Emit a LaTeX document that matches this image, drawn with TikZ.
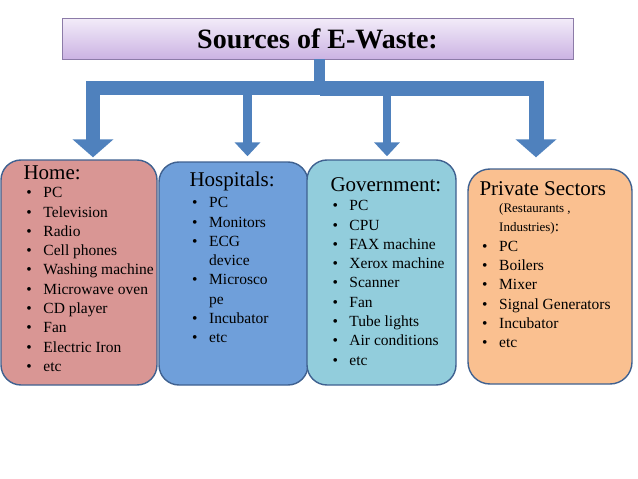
\documentclass[tikz,border=0pt]{standalone}
\usepackage{fontspec}
\setmainfont{Liberation Serif}
\usetikzlibrary{arrows.meta, positioning, calc}

\definecolor{titleTop}{HTML}{F3ECF9}
\definecolor{titleBot}{HTML}{CBB3E3}
\definecolor{titleLine}{HTML}{8C7BA8}
\definecolor{boxLine}{HTML}{3F6190}
\definecolor{arrowBlue}{HTML}{4F81BD}
\definecolor{homeFill}{HTML}{D99694}
\definecolor{hospFill}{HTML}{6F9FDA}
\definecolor{govFill}{HTML}{92CDDC}
\definecolor{privFill}{HTML}{FAC090}

\newcommand{\itm}[1]{\makebox[17pt][l]{\textbullet}#1}
\newcommand{\cnt}[1]{\hspace*{17pt}#1}

\tikzset{
  titleBox/.style={draw=titleLine, line width=0.8pt,
                   top color=titleTop, bottom color=titleBot,
                   minimum width=511pt, minimum height=41pt,
                   font=\fontsize{28}{32}\selectfont\bfseries},
  srcBox/.style={draw=boxLine, line width=1.4pt, rounded corners=20pt},
  headTxt/.style={inner sep=0pt, anchor=west,
                  font=\fontsize{21}{24}\selectfont},
  itemTxt/.style={inner sep=0pt, anchor=north west, align=left,
                  font=\fontsize{15.5}{19.3}\selectfont},
  trunk/.style={draw=arrowBlue, line width=11pt},
}

\begin{document}
\begin{tikzpicture}[x=1pt, y=-1pt]
    \useasboundingbox (0,0) rectangle (638,479);
    %% title
    \node[titleBox] (title) at (317.5,38.5) {Sources of E-Waste:};
    %% the four source boxes
    \node[srcBox, fill=homeFill, minimum width=156pt, minimum height=225pt] (home) at (79,272.5) {};
    \node[srcBox, fill=hospFill, minimum width=149pt, minimum height=223pt] (hosp) at (233.5,273.5) {};
    \node[srcBox, fill=govFill, minimum width=149pt, minimum height=225pt] (gov) at (381.5,272.5) {};
    \node[srcBox, fill=privFill, minimum width=164pt, minimum height=215pt, rounded corners=22pt] (priv) at (550,276.5) {};
    %% block arrows
    \coordinate (hub) at ([xshift=2pt,yshift=-29pt]title.south);
    \draw[trunk] ([xshift=2pt]title.south) -- (hub);
    \foreach \nm/\dx/\w/\hw/\hl/\sh in {home/14/14/40/18/2, priv/-14/15/40/18/11,
                                         hosp/14/9/25/14/5, gov/5.5/8/25/14/3}{
      \draw[draw=arrowBlue, line width=\w pt, shorten >=\sh pt,
            -{Triangle[width=\hw pt, length=\hl pt]}, arrowBlue]
        (hub) -| ([xshift=\dx pt]\nm.north);
    }
    %% Home
    \node[headTxt] (homeHd) at ([xshift=23pt,yshift=-13pt]home.north west) {Home:};
    \node[itemTxt] (homeList) at ([xshift=26pt,yshift=-28pt]home.north west)
      {\itm{PC}\\ \itm{Television}\\ \itm{Radio}\\ \itm{Cell phones}\\
       \itm{Washing machine}\\ \itm{Microwave oven}\\ \itm{CD player}\\
       \itm{Fan}\\ \itm{Electric Iron}\\ \itm{etc}};
    %% Hospitals
    \node[headTxt] (hospHd) at ([xshift=31pt,yshift=-20pt]hosp.north west) {Hospitals:};
    \node[itemTxt] (hospList) at ([xshift=33.7pt,yshift=-36pt]hosp.north west)
      {\itm{PC}\\ \itm{Monitors}\\ \itm{ECG}\\ \cnt{device}\\
       \itm{Microsco}\\ \cnt{pe}\\ \itm{Incubator}\\ \itm{etc}};
    %% Government
    \node[headTxt] (govHd) at ([xshift=24pt,yshift=-25pt]gov.north west) {Government:};
    \node[itemTxt] (govList) at ([xshift=26pt,yshift=-41pt]gov.north west)
      {\itm{PC}\\ \itm{CPU}\\ \itm{FAX machine}\\ \itm{Xerox machine}\\
       \itm{Scanner}\\ \itm{Fan}\\ \itm{Tube lights}\\ \itm{Air conditions}\\ \itm{etc}};
    %% Private sectors
    \node[headTxt] (privHd) at ([xshift=12pt,yshift=-20.3pt]priv.north west) {Private Sectors};
    \node[itemTxt] (privList) at ([xshift=14.7pt,yshift=-35pt]priv.north west)
      {\cnt{{\fontsize{13}{19.3}\selectfont(Restaurants ,}}\\
       \cnt{{\fontsize{13}{19.3}\selectfont Industries)}:}\\
       \itm{PC}\\ \itm{Boilers}\\ \itm{Mixer}\\ \itm{Signal Generators}\\
       \itm{Incubator}\\ \itm{etc}};
\end{tikzpicture}
\end{document}
